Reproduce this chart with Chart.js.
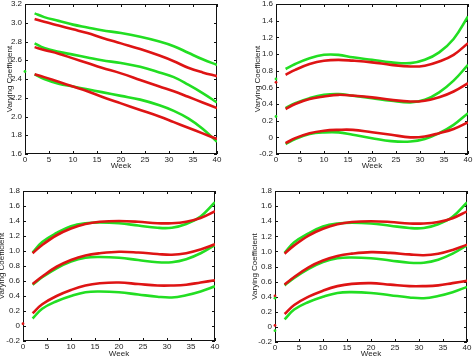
<!DOCTYPE html>
<html><head><meta charset="utf-8">
<script src="https://cdn.jsdelivr.net/npm/chart.js@4/dist/chart.umd.min.js"></script>
<style>
html,body{margin:0;padding:0;background:#fff;overflow:hidden;width:474px;height:357px;position:relative}
canvas{position:absolute}
</style></head><body>
<canvas id="c0"></canvas><canvas id="c1"></canvas><canvas id="c2"></canvas><canvas id="c3"></canvas>
<script>
// ---- data ----
const weeks = [2,4,7,10,13,16,20,24,28,31,34,37,40];
const xTicks = [0,5,10,15,20,25,30,35,40];
const yTicksA = [1.6,1.8,2,2.2,2.4,2.6,2.8,3,3.2];
const yTicksB = [-0.2,0,0.2,0.4,0.6,0.8,1,1.2,1.4,1.6];
const yTicksC = [-0.2,0,0.2,0.4,0.6,0.8,1,1.2,1.4,1.6,1.8];

// panel A (top-left)
const aGreenTop = [3.10,3.06,3.02,2.98,2.95,2.92,2.89,2.85,2.80,2.75,2.68,2.61,2.55];
const aRedTop   = [3.04,3.01,2.97,2.93,2.89,2.84,2.78,2.72,2.65,2.59,2.52,2.47,2.43];
const aGreenMid = [2.78,2.73,2.69,2.66,2.63,2.60,2.57,2.53,2.47,2.42,2.34,2.25,2.15];
const aRedMid   = [2.74,2.71,2.67,2.62,2.57,2.52,2.46,2.39,2.32,2.27,2.21,2.15,2.09];
const aGreenBot = [2.45,2.40,2.35,2.32,2.29,2.26,2.22,2.18,2.12,2.06,1.98,1.87,1.73];
const aRedBot   = [2.45,2.42,2.37,2.32,2.27,2.21,2.14,2.07,2.00,1.94,1.88,1.82,1.76];
const aGreenDots = [2.48];
const aRedDots = [];

// panel B (top-right)
const bGreenTop = [0.82,0.88,0.95,0.99,0.99,0.96,0.93,0.90,0.89,0.93,1.02,1.18,1.45];
const bRedTop   = [0.75,0.81,0.88,0.92,0.93,0.92,0.90,0.87,0.85,0.86,0.91,0.99,1.13];
const bGreenMid = [0.35,0.41,0.47,0.51,0.52,0.50,0.47,0.44,0.42,0.45,0.54,0.68,0.87];
const bRedMid   = [0.34,0.40,0.46,0.49,0.51,0.50,0.48,0.45,0.43,0.44,0.48,0.55,0.65];
const bGreenBot = [-0.08,-0.02,0.04,0.06,0.06,0.03,-0.01,-0.045,-0.05,-0.02,0.05,0.15,0.29];
const bRedBot   = [-0.07,-0.01,0.05,0.08,0.09,0.09,0.06,0.03,0.00,0.01,0.05,0.10,0.18];
const bGreenDots = [0.70,0.25];
const bRedDots = [0.66];

// panel C (bottom-left) and D (bottom-right, same curves)
const cGreenTop = [0.98,1.12,1.24,1.33,1.37,1.38,1.37,1.34,1.31,1.31,1.36,1.46,1.65];
const cRedTop   = [0.97,1.08,1.21,1.30,1.36,1.39,1.40,1.39,1.37,1.37,1.39,1.44,1.53];
const cGreenMid = [0.55,0.65,0.77,0.86,0.91,0.92,0.91,0.88,0.85,0.85,0.89,0.97,1.08];
const cRedMid   = [0.56,0.66,0.79,0.88,0.94,0.97,0.99,0.98,0.96,0.95,0.97,1.02,1.09];
const cGreenBot = [0.10,0.23,0.33,0.40,0.45,0.46,0.45,0.42,0.39,0.38,0.41,0.46,0.53];
const cRedBot   = [0.17,0.29,0.40,0.48,0.54,0.57,0.58,0.56,0.54,0.54,0.55,0.58,0.61];
const cGreenDots = [];
const cRedDots = [0.03];
const dGreenDots = [0.38,-0.05];
const dRedDots = [0.41,0.02];

const GREEN = 'rgb(34,222,34)';
const RED = 'rgb(222,20,20)';
const FONT = {family:'"Liberation Sans", Arial, Helvetica, sans-serif', size:8};

const panels = [
  {id:'c0', cv:{l:0,t:0,w:237,h:178}, area:{l:25,t:3,r:217,b:154}, titleX:10, weekY:166, yTicks:yTicksA,
   green:[aGreenTop,aGreenMid,aGreenBot], red:[aRedTop,aRedMid,aRedBot], gDots:aGreenDots, rDots:aRedDots},
  {id:'c1', cv:{l:237,t:0,w:237,h:178}, area:{l:276,t:4,r:468,b:154}, titleX:258, weekY:166, yTicks:yTicksB,
   green:[bGreenTop,bGreenMid,bGreenBot], red:[bRedTop,bRedMid,bRedBot], gDots:bGreenDots, rDots:bRedDots},
  {id:'c2', cv:{l:-8,t:178,w:245,h:185}, area:{l:23,t:191,r:215,b:341}, titleX:2, weekY:354, yTicks:yTicksC,
   green:[cGreenTop,cGreenMid,cGreenBot], red:[cRedTop,cRedMid,cRedBot], gDots:cGreenDots, rDots:cRedDots},
  {id:'c3', cv:{l:237,t:178,w:237,h:185}, area:{l:275,t:191,r:467,b:342}, titleX:255, weekY:354, yTicks:yTicksC,
   green:[cGreenTop,cGreenMid,cGreenBot], red:[cRedTop,cRedMid,cRedBot], gDots:dGreenDots, rDots:dRedDots}
];

const boxPlugin = {
  id:'matlabBox',
  beforeDatasetsDraw(chart){
    const {ctx, chartArea:a, scales} = chart;
    ctx.save();
    ctx.strokeStyle = '#111';
    ctx.lineWidth = 1;
    ctx.strokeRect(Math.round(a.left)+0.5, Math.round(a.top)+0.5, Math.round(a.right-a.left)-1, Math.round(a.bottom-a.top)-1);
    const L = 3;
    ctx.beginPath();
    scales.x.ticks.forEach(t => {
      const px = Math.round(scales.x.getPixelForValue(t.value))+0.5;
      ctx.moveTo(px, a.bottom); ctx.lineTo(px, a.bottom - L);
      ctx.moveTo(px, a.top); ctx.lineTo(px, a.top + L);
    });
    scales.y.ticks.forEach(t => {
      const py = Math.round(scales.y.getPixelForValue(t.value))+0.5;
      ctx.moveTo(a.left, py); ctx.lineTo(a.left + L, py);
      ctx.moveTo(a.right, py); ctx.lineTo(a.right - L, py);
    });
    ctx.stroke();
    ctx.restore();
  }
};

function lineSet(vals, color){
  return {data: weeks.map((w,i)=>({x:w,y:vals[i]})), borderColor:color, backgroundColor:color,
    borderWidth:2.6, pointRadius:0, tension:0.4, fill:false};
}
function dotSet(vals, color){
  return {data: vals.map(v=>({x:0,y:v})), showLine:false, borderColor:color, backgroundColor:color,
    pointRadius:1.4, pointBorderWidth:0, clip:false};
}

panels.forEach(p => {
  const cv = document.getElementById(p.id);
  cv.width = p.cv.w; cv.height = p.cv.h;
  cv.style.left = p.cv.l+'px'; cv.style.top = p.cv.t+'px';
  cv.style.width = p.cv.w+'px'; cv.style.height = p.cv.h+'px';
  const lh = FONT.size*1.2;
  const datasets = [];
  p.red.forEach(v => datasets.push(lineSet(v, RED)));
  p.green.forEach(v => datasets.push(lineSet(v, GREEN)));
  if (p.gDots.length) datasets.push(dotSet(p.gDots, GREEN));
  if (p.rDots.length) datasets.push(dotSet(p.rDots, RED));
  const yT = p.yTicks;
  new Chart(cv, {
    type:'line',
    data:{datasets},
    plugins:[boxPlugin],
    options:{
      responsive:false, animation:false, devicePixelRatio:1,
      layout:{padding:{left:0, top:p.area.t-p.cv.t, right:(p.cv.l+p.cv.w)-p.area.r, bottom:0}},
      plugins:{legend:{display:false}, tooltip:{enabled:false}},
      scales:{
        x:{type:'linear', min:0, max:40,
          afterBuildTicks:s=>{ s.ticks = xTicks.map(v=>({value:v})); },
          afterFit:s=>{ s.height = (p.cv.t+p.cv.h)-p.area.b; s.paddingLeft=0; s.paddingRight=0; },
          grid:{display:false, drawTicks:false}, border:{display:false},
          ticks:{font:FONT, color:'#222', padding:1, maxRotation:0, autoSkip:false},
          title:{display:true, text:'Week', font:FONT, color:'#222',
            padding:{top:0, bottom:(p.cv.t+p.cv.h)-p.weekY-lh/2}}
        },
        y:{type:'linear', min:yT[0], max:yT[yT.length-1],
          afterBuildTicks:s=>{ s.ticks = yT.map(v=>({value:v})); },
          afterFit:s=>{ s.width = p.area.l-p.cv.l; s.paddingTop=0; s.paddingBottom=0; },
          grid:{display:false, drawTicks:false}, border:{display:false},
          ticks:{font:FONT, color:'#222', padding:3, autoSkip:false},
          title:{display:true, text:'Varying Coefficient', font:FONT, color:'#222',
            padding:{top:p.titleX-p.cv.l-lh/2, bottom:0}}
        }
      }
    }
  });
});
</script>
</body></html>
